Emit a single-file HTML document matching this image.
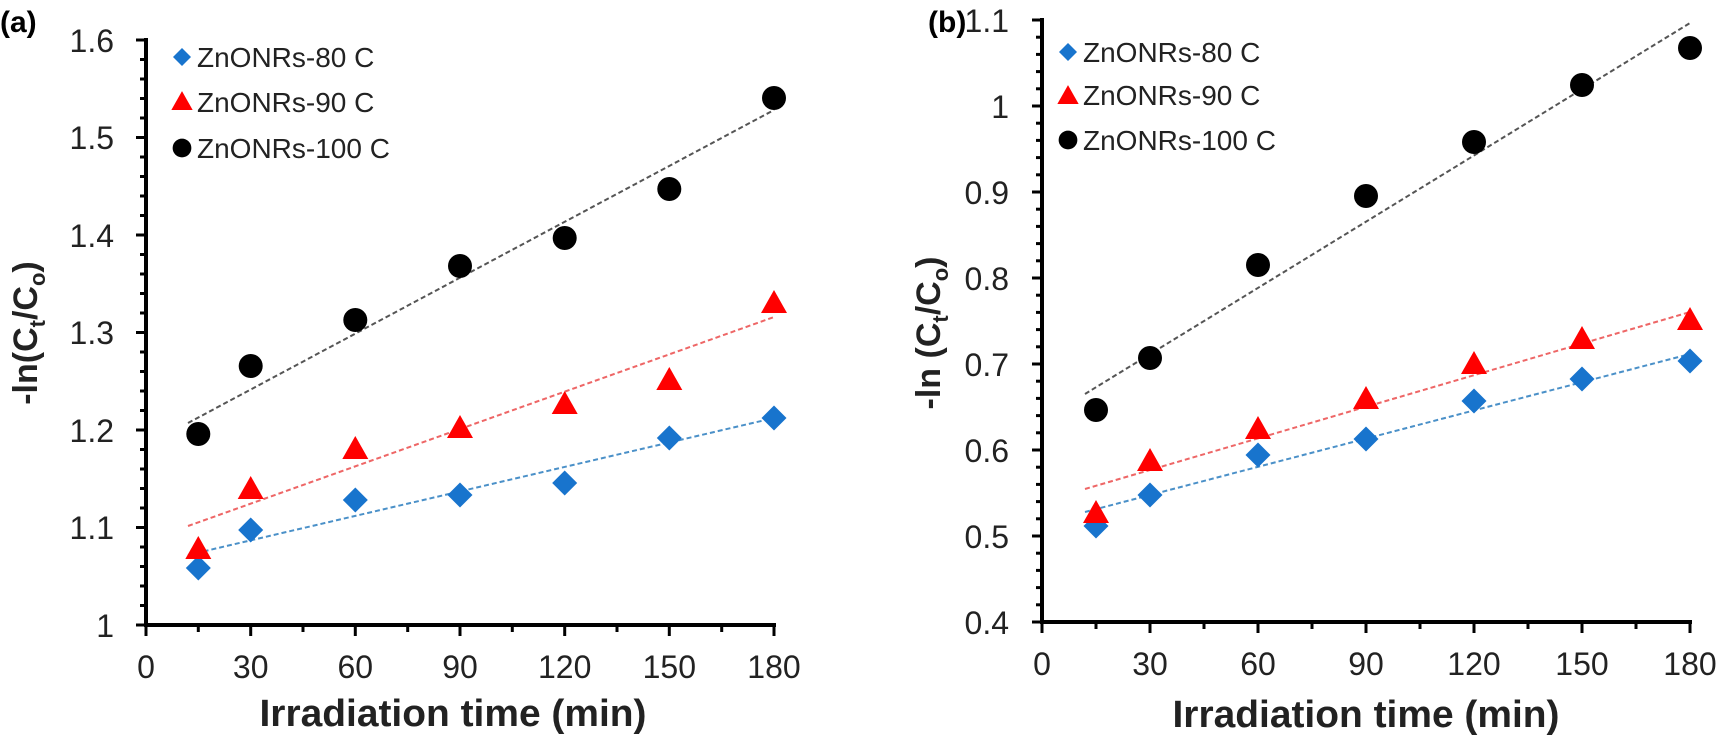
<!DOCTYPE html>
<html><head><meta charset="utf-8"><style>
html,body{margin:0;padding:0;background:#fff;}
svg{display:block;font-family:"Liberation Sans",Arial,sans-serif;}
</style></head><body>
<svg width="1716" height="738" viewBox="0 0 1716 738" xmlns="http://www.w3.org/2000/svg">
<defs>
<g id="dia"><polygon points="0,-12.5 12.5,0 0,12.5 -12.5,0" fill="#1874cd"/></g>
<g id="tri"><polygon points="0,-12 13,11 -13,11" fill="#ff0000"/></g>
<g id="cir"><circle r="12" fill="#000"/></g>
</defs>

<!-- Panel a -->
<text x="0" y="32" font-size="30" font-weight="bold">(a)</text>
<g stroke="#000" stroke-width="4" fill="none">
<line x1="146" y1="38" x2="146" y2="627"/>
<line x1="144" y1="625" x2="776" y2="625"/>
</g>
<g stroke="#000" stroke-width="3">
<line x1="136" y1="40" x2="146" y2="40"/><line x1="136" y1="137.5" x2="146" y2="137.5"/><line x1="136" y1="235" x2="146" y2="235"/><line x1="136" y1="332.5" x2="146" y2="332.5"/><line x1="136" y1="430" x2="146" y2="430"/><line x1="136" y1="527.5" x2="146" y2="527.5"/><line x1="136" y1="625" x2="146" y2="625"/>
<line x1="140" y1="59.5" x2="146" y2="59.5"/><line x1="140" y1="79" x2="146" y2="79"/><line x1="140" y1="98.5" x2="146" y2="98.5"/><line x1="140" y1="118" x2="146" y2="118"/>
<line x1="140" y1="157" x2="146" y2="157"/><line x1="140" y1="176.5" x2="146" y2="176.5"/><line x1="140" y1="196" x2="146" y2="196"/><line x1="140" y1="215.5" x2="146" y2="215.5"/>
<line x1="140" y1="254.5" x2="146" y2="254.5"/><line x1="140" y1="274" x2="146" y2="274"/><line x1="140" y1="293.5" x2="146" y2="293.5"/><line x1="140" y1="313" x2="146" y2="313"/>
<line x1="140" y1="352" x2="146" y2="352"/><line x1="140" y1="371.5" x2="146" y2="371.5"/><line x1="140" y1="391" x2="146" y2="391"/><line x1="140" y1="410.5" x2="146" y2="410.5"/>
<line x1="140" y1="449.5" x2="146" y2="449.5"/><line x1="140" y1="469" x2="146" y2="469"/><line x1="140" y1="488.5" x2="146" y2="488.5"/><line x1="140" y1="508" x2="146" y2="508"/>
<line x1="140" y1="547" x2="146" y2="547"/><line x1="140" y1="566.5" x2="146" y2="566.5"/><line x1="140" y1="586" x2="146" y2="586"/><line x1="140" y1="605.5" x2="146" y2="605.5"/>
<line x1="146" y1="625" x2="146" y2="636"/><line x1="250.7" y1="625" x2="250.7" y2="636"/><line x1="355.3" y1="625" x2="355.3" y2="636"/><line x1="460" y1="625" x2="460" y2="636"/><line x1="564.7" y1="625" x2="564.7" y2="636"/><line x1="669.3" y1="625" x2="669.3" y2="636"/><line x1="774" y1="625" x2="774" y2="636"/>
<line x1="198.3" y1="625" x2="198.3" y2="632"/><line x1="303" y1="625" x2="303" y2="632"/><line x1="407.7" y1="625" x2="407.7" y2="632"/><line x1="512.3" y1="625" x2="512.3" y2="632"/><line x1="617" y1="625" x2="617" y2="632"/><line x1="721.7" y1="625" x2="721.7" y2="632"/>
</g>
<g font-size="32" fill="#222" text-anchor="end">
<text x="114" y="52">1.6</text><text x="114" y="149">1.5</text><text x="114" y="247">1.4</text><text x="114" y="344">1.3</text><text x="114" y="442">1.2</text><text x="114" y="539">1.1</text><text x="114" y="637">1</text>
</g>
<g font-size="32" fill="#222" text-anchor="middle">
<text x="146" y="678">0</text><text x="250.7" y="678">30</text><text x="355.3" y="678">60</text><text x="460" y="678">90</text><text x="564.7" y="678">120</text><text x="669.3" y="678">150</text><text x="774" y="678">180</text>
</g>
<text x="453" y="726" font-size="38" font-weight="bold" text-anchor="middle" fill="#222" textLength="387" lengthAdjust="spacingAndGlyphs">Irradiation time (min)</text>
<text transform="translate(37,333) rotate(-90)" font-size="34" font-weight="bold" text-anchor="middle" fill="#222">-ln(C<tspan font-size="22" dy="8">t</tspan><tspan dy="-8">/C</tspan><tspan font-size="22" dy="8">o</tspan><tspan dy="-8">)</tspan></text>
<g stroke-width="2" stroke-dasharray="5,3" fill="none">
<line x1="188" y1="423" x2="774" y2="110" stroke="#555"/>
<line x1="188" y1="526" x2="774" y2="317" stroke="#ee6666"/>
<line x1="188" y1="555" x2="774" y2="418" stroke="#4a90c8"/>
</g>
<g>
<use href="#dia" x="198.3" y="568"/><use href="#dia" x="250.7" y="530"/><use href="#dia" x="355.3" y="500"/><use href="#dia" x="460" y="495"/><use href="#dia" x="564.7" y="483"/><use href="#dia" x="669.3" y="438"/><use href="#dia" x="774" y="418"/>
<use href="#tri" x="198.3" y="548"/><use href="#tri" x="250.7" y="488"/><use href="#tri" x="355.3" y="448"/><use href="#tri" x="460" y="427"/><use href="#tri" x="564.7" y="403"/><use href="#tri" x="669.3" y="379"/><use href="#tri" x="774" y="302"/>
<use href="#cir" x="198.3" y="434"/><use href="#cir" x="250.7" y="366"/><use href="#cir" x="355.3" y="320"/><use href="#cir" x="460" y="266"/><use href="#cir" x="564.7" y="238"/><use href="#cir" x="669.3" y="189"/><use href="#cir" x="774" y="98"/>
</g>
<g transform="translate(182,57) scale(0.72)"><use href="#dia"/></g>
<g transform="translate(182,101) scale(0.82)"><use href="#tri"/></g>
<g transform="translate(182,148) scale(0.78)"><use href="#cir"/></g>
<g font-size="28" fill="#222">
<text x="197" y="67">ZnONRs-80 C</text><text x="197" y="112">ZnONRs-90 C</text><text x="197" y="158">ZnONRs-100 C</text>
</g>

<!-- Panel b -->
<text x="928" y="32" font-size="30" font-weight="bold">(b)</text>
<g stroke="#000" stroke-width="4" fill="none">
<line x1="1042" y1="18" x2="1042" y2="624"/>
<line x1="1040" y1="622" x2="1692" y2="622"/>
</g>
<g stroke="#000" stroke-width="3">
<line x1="1032" y1="20" x2="1042" y2="20"/><line x1="1032" y1="106" x2="1042" y2="106"/><line x1="1032" y1="192" x2="1042" y2="192"/><line x1="1032" y1="278" x2="1042" y2="278"/><line x1="1032" y1="364" x2="1042" y2="364"/><line x1="1032" y1="450" x2="1042" y2="450"/><line x1="1032" y1="536" x2="1042" y2="536"/><line x1="1032" y1="622" x2="1042" y2="622"/>
<line x1="1036" y1="37.2" x2="1042" y2="37.2"/><line x1="1036" y1="54.4" x2="1042" y2="54.4"/><line x1="1036" y1="71.6" x2="1042" y2="71.6"/><line x1="1036" y1="88.8" x2="1042" y2="88.8"/>
<line x1="1036" y1="123.2" x2="1042" y2="123.2"/><line x1="1036" y1="140.4" x2="1042" y2="140.4"/><line x1="1036" y1="157.6" x2="1042" y2="157.6"/><line x1="1036" y1="174.8" x2="1042" y2="174.8"/>
<line x1="1036" y1="209.2" x2="1042" y2="209.2"/><line x1="1036" y1="226.4" x2="1042" y2="226.4"/><line x1="1036" y1="243.6" x2="1042" y2="243.6"/><line x1="1036" y1="260.8" x2="1042" y2="260.8"/>
<line x1="1036" y1="295.2" x2="1042" y2="295.2"/><line x1="1036" y1="312.4" x2="1042" y2="312.4"/><line x1="1036" y1="329.6" x2="1042" y2="329.6"/><line x1="1036" y1="346.8" x2="1042" y2="346.8"/>
<line x1="1036" y1="381.2" x2="1042" y2="381.2"/><line x1="1036" y1="398.4" x2="1042" y2="398.4"/><line x1="1036" y1="415.6" x2="1042" y2="415.6"/><line x1="1036" y1="432.8" x2="1042" y2="432.8"/>
<line x1="1036" y1="467.2" x2="1042" y2="467.2"/><line x1="1036" y1="484.4" x2="1042" y2="484.4"/><line x1="1036" y1="501.6" x2="1042" y2="501.6"/><line x1="1036" y1="518.8" x2="1042" y2="518.8"/>
<line x1="1036" y1="553.2" x2="1042" y2="553.2"/><line x1="1036" y1="570.4" x2="1042" y2="570.4"/><line x1="1036" y1="587.6" x2="1042" y2="587.6"/><line x1="1036" y1="604.8" x2="1042" y2="604.8"/>
<line x1="1042" y1="622" x2="1042" y2="633"/><line x1="1150" y1="622" x2="1150" y2="633"/><line x1="1258" y1="622" x2="1258" y2="633"/><line x1="1366" y1="622" x2="1366" y2="633"/><line x1="1474" y1="622" x2="1474" y2="633"/><line x1="1582" y1="622" x2="1582" y2="633"/><line x1="1690" y1="622" x2="1690" y2="633"/>
<line x1="1096" y1="622" x2="1096" y2="629"/><line x1="1204" y1="622" x2="1204" y2="629"/><line x1="1312" y1="622" x2="1312" y2="629"/><line x1="1420" y1="622" x2="1420" y2="629"/><line x1="1528" y1="622" x2="1528" y2="629"/><line x1="1636" y1="622" x2="1636" y2="629"/>
</g>
<g font-size="32" fill="#222" text-anchor="end">
<text x="1009" y="32">1.1</text><text x="1009" y="118">1</text><text x="1009" y="204">0.9</text><text x="1009" y="290">0.8</text><text x="1009" y="376">0.7</text><text x="1009" y="462">0.6</text><text x="1009" y="548">0.5</text><text x="1009" y="634">0.4</text>
</g>
<g font-size="32" fill="#222" text-anchor="middle">
<text x="1042" y="675">0</text><text x="1150" y="675">30</text><text x="1258" y="675">60</text><text x="1366" y="675">90</text><text x="1474" y="675">120</text><text x="1582" y="675">150</text><text x="1690" y="675">180</text>
</g>
<text x="1366" y="727" font-size="38" font-weight="bold" text-anchor="middle" fill="#222" textLength="387" lengthAdjust="spacingAndGlyphs">Irradiation time (min)</text>
<text transform="translate(940,333) rotate(-90)" font-size="34" font-weight="bold" text-anchor="middle" fill="#222">-ln (C<tspan font-size="22" dy="8">t</tspan><tspan dy="-8">/C</tspan><tspan font-size="22" dy="8">o</tspan><tspan dy="-8">)</tspan></text>
<g stroke-width="2" stroke-dasharray="5,3" fill="none">
<line x1="1085" y1="394" x2="1690" y2="23" stroke="#555"/>
<line x1="1085" y1="489" x2="1690" y2="312" stroke="#ee6666"/>
<line x1="1085" y1="512" x2="1690" y2="354" stroke="#4a90c8"/>
</g>
<g>
<use href="#dia" x="1096" y="526"/><use href="#dia" x="1150" y="495"/><use href="#dia" x="1258" y="455"/><use href="#dia" x="1366" y="439"/><use href="#dia" x="1474" y="401"/><use href="#dia" x="1582" y="379"/><use href="#dia" x="1690" y="361"/>
<use href="#tri" x="1096" y="512"/><use href="#tri" x="1150" y="460"/><use href="#tri" x="1258" y="428"/><use href="#tri" x="1366" y="398"/><use href="#tri" x="1474" y="363"/><use href="#tri" x="1582" y="338"/><use href="#tri" x="1690" y="319"/>
<use href="#cir" x="1096" y="410"/><use href="#cir" x="1150" y="358"/><use href="#cir" x="1258" y="265"/><use href="#cir" x="1366" y="196"/><use href="#cir" x="1474" y="142"/><use href="#cir" x="1582" y="85"/><use href="#cir" x="1690" y="48"/>
</g>
<g transform="translate(1068,52) scale(0.72)"><use href="#dia"/></g>
<g transform="translate(1068,95) scale(0.82)"><use href="#tri"/></g>
<g transform="translate(1068,140) scale(0.78)"><use href="#cir"/></g>
<g font-size="28" fill="#222">
<text x="1083" y="62">ZnONRs-80 C</text><text x="1083" y="105">ZnONRs-90 C</text><text x="1083" y="150">ZnONRs-100 C</text>
</g>
</svg>
</body></html>
